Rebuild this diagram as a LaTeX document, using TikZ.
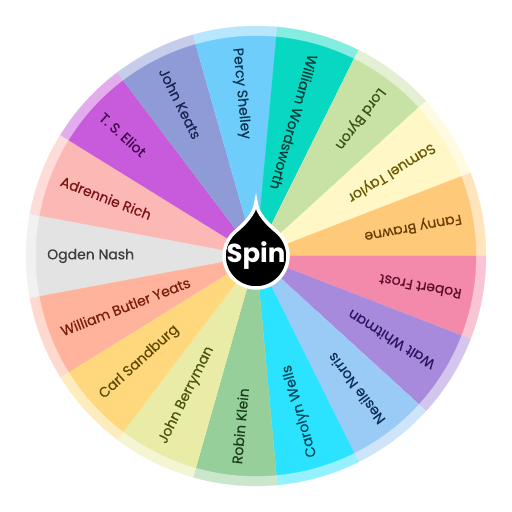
\documentclass[tikz,border=0pt]{standalone}
\usepackage{fontspec}
\setmainfont{Poppins}
\newfontfamily\lblfont{Poppins}[FakeBold=0.5]
\usetikzlibrary{calc}
\definecolor{cOgden}{HTML}{E3E3E3}\definecolor{tOgden}{HTML}{3C3C3C}
\definecolor{cRich}{HTML}{FBB8B4}\definecolor{tRich}{HTML}{7A1414}
\definecolor{cEliot}{HTML}{C85BDB}\definecolor{tEliot}{HTML}{3E0A4A}
\definecolor{cKeats}{HTML}{8E9BD6}\definecolor{tKeats}{HTML}{1A2450}
\definecolor{cShelley}{HTML}{6FCDFB}\definecolor{tShelley}{HTML}{0A3550}
\definecolor{cWords}{HTML}{08D8C1}\definecolor{tWords}{HTML}{003D38}
\definecolor{cByron}{HTML}{C8E2A6}\definecolor{tByron}{HTML}{3E5216}
\definecolor{cTaylor}{HTML}{FFF7C6}\definecolor{tTaylor}{HTML}{6A5A00}
\definecolor{cBrawne}{HTML}{FFC97A}\definecolor{tBrawne}{HTML}{6A3C00}
\definecolor{cFrost}{HTML}{F48AAB}\definecolor{tFrost}{HTML}{5E0E2C}
\definecolor{cWhitman}{HTML}{A78ADB}\definecolor{tWhitman}{HTML}{2C1660}
\definecolor{cNorris}{HTML}{9ACAF6}\definecolor{tNorris}{HTML}{0C2E58}
\definecolor{cWells}{HTML}{2CE3FF}\definecolor{tWells}{HTML}{00465A}
\definecolor{cKlein}{HTML}{96CF9A}\definecolor{tKlein}{HTML}{1C3E1E}
\definecolor{cBerry}{HTML}{E8ECA6}\definecolor{tBerry}{HTML}{4C5410}
\definecolor{cSand}{HTML}{FFD87D}\definecolor{tSand}{HTML}{5E4800}
\definecolor{cYeats}{HTML}{FFB39C}\definecolor{tYeats}{HTML}{7A1C10}
\begin{document}
\begin{tikzpicture}[x=1pt,y=1pt,
  label/.style={font=\lblfont\fontsize{14}{14}\selectfont, inner sep=0pt, anchor=west}]
\useasboundingbox (0,0) rectangle (512,512);
\coordinate (c) at (256,256);
\def\segang{21.17647}
\foreach \i/\col/\name in {0/Ogden/Ogden Nash, 1/Rich/Adrennie Rich, 2/Eliot/T. S. Eliot, 3/Keats/John Keats, 4/Shelley/Percy Shelley, 5/Words/William Wordsworth, 6/Byron/Lord Byron, 7/Taylor/Samuel Taylor, 8/Brawne/Fanny Brawne, 9/Frost/Robert Frost, 10/Whitman/Walt Whitman, 11/Norris/Nesile Norris, 12/Wells/Carolyn Wells, 13/Klein/Robin Klein, 14/Berry/John Berryman, 15/Sand/Carl Sandburg, 16/Yeats/William Butler Yeats} {
  \pgfmathsetmacro\a{180-\segang*\i}
  \pgfmathsetmacro\sa{\a-\segang/2}
  \pgfmathsetmacro\ea{\a+\segang/2}
  \fill[c\col!50!white, draw=c\col!50!white, line width=0.3pt] (c) -- ($(c)+(\sa:230)$) arc[start angle=\sa, end angle=\ea, radius=230] -- cycle;
  \fill[c\col, draw=c\col, line width=0.3pt] (c) -- ($(c)+(\sa:220)$) arc[start angle=\sa, end angle=\ea, radius=220] -- cycle;
  \node[label, text=t\col, rotate=\a+180] (n\i) at ($(c)+(\a:209)$) {\name};
}
\draw[white, line width=3.5pt, fill=black]
  (256,310) .. controls (257,298) and (268.9,286.9) .. ($(c)+(50:32)$)
  arc[start angle=50, end angle=-230, radius=32]
  .. controls (243.1,286.9) and (255,298) .. (256,310) -- cycle;
\node[text=white, font=\bfseries\fontsize{26}{26}\selectfont, inner sep=0pt] (spin) at (256,256) {Spin};
\end{tikzpicture}
\end{document}
